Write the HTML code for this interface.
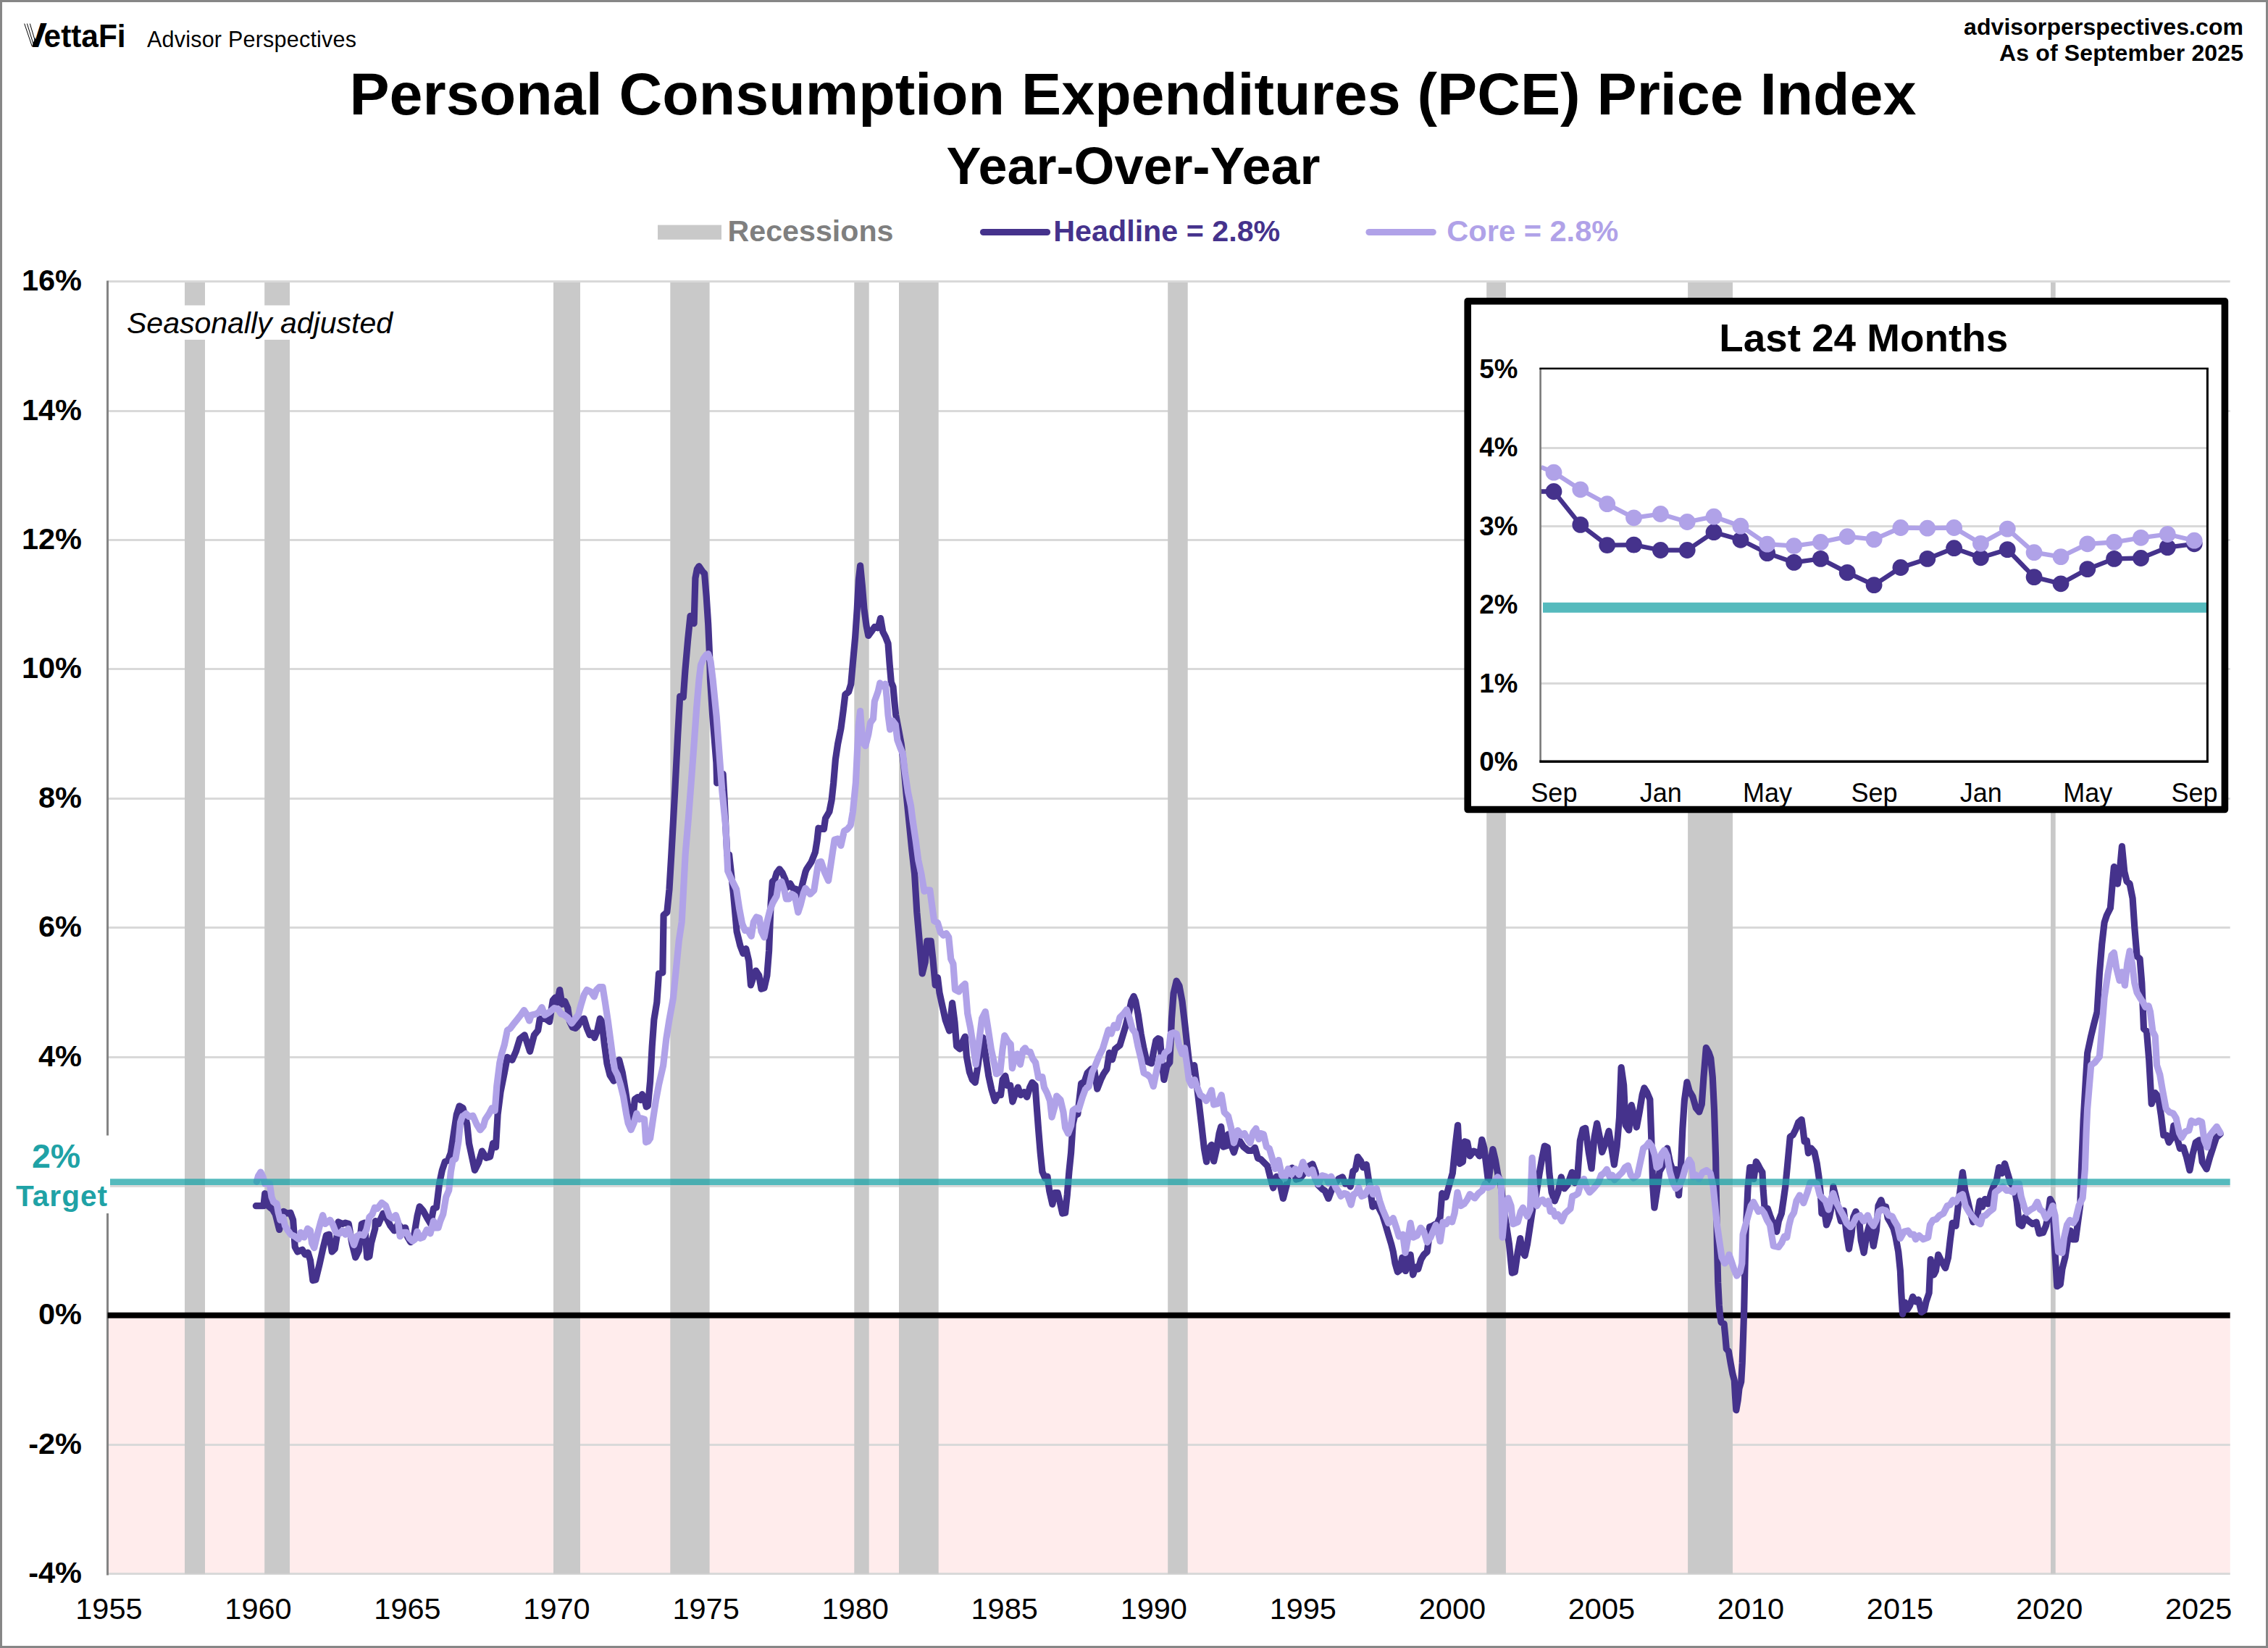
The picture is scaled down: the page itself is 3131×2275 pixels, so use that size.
<!DOCTYPE html>
<html lang="en"><head><meta charset="utf-8"><title>Personal Consumption Expenditures (PCE) Price Index</title>
<style>html,body{margin:0;padding:0;background:#fff}svg{display:block}text{font-family:"Liberation Sans",Arial,sans-serif}.b{font-weight:bold}</style>
</head><body>
<svg width="3131" height="2275" viewBox="0 0 3131 2275">
<rect x="0" y="0" width="3131" height="2275" fill="#fff"/>
<rect x="148.6" y="1815.8" width="2930.1" height="356.8" fill="#ffecec"/>
<line x1="148.6" x2="3078.7" y1="2172.5" y2="2172.5" stroke="#d9d9d9" stroke-width="3"/>
<line x1="148.6" x2="3078.7" y1="1994.5" y2="1994.5" stroke="#d9d9d9" stroke-width="3"/>
<line x1="148.6" x2="3078.7" y1="1637.5" y2="1637.5" stroke="#d9d9d9" stroke-width="3"/>
<line x1="148.6" x2="3078.7" y1="1459.5" y2="1459.5" stroke="#d9d9d9" stroke-width="3"/>
<line x1="148.6" x2="3078.7" y1="1280.5" y2="1280.5" stroke="#d9d9d9" stroke-width="3"/>
<line x1="148.6" x2="3078.7" y1="1102.5" y2="1102.5" stroke="#d9d9d9" stroke-width="3"/>
<line x1="148.6" x2="3078.7" y1="923.5" y2="923.5" stroke="#d9d9d9" stroke-width="3"/>
<line x1="148.6" x2="3078.7" y1="745.5" y2="745.5" stroke="#d9d9d9" stroke-width="3"/>
<line x1="148.6" x2="3078.7" y1="567.5" y2="567.5" stroke="#d9d9d9" stroke-width="3"/>
<line x1="148.6" x2="3078.7" y1="388.5" y2="388.5" stroke="#d9d9d9" stroke-width="3"/>
<rect x="255" y="390" width="28.0" height="1782.6" fill="#c9c9c9"/>
<rect x="365.2" y="390" width="34.8" height="1782.6" fill="#c9c9c9"/>
<rect x="764" y="390" width="37.0" height="1782.6" fill="#c9c9c9"/>
<rect x="925.3" y="390" width="54.3" height="1782.6" fill="#c9c9c9"/>
<rect x="1179.3" y="390" width="20.4" height="1782.6" fill="#c9c9c9"/>
<rect x="1241" y="390" width="54.7" height="1782.6" fill="#c9c9c9"/>
<rect x="1612.2" y="390" width="27.5" height="1782.6" fill="#c9c9c9"/>
<rect x="2052.2" y="390" width="26.7" height="1782.6" fill="#c9c9c9"/>
<rect x="2330.1" y="390" width="61.9" height="1782.6" fill="#c9c9c9"/>
<rect x="2831" y="390" width="6.7" height="1782.6" fill="#c9c9c9"/>
<line x1="148.5" x2="148.5" y1="387.6" y2="2174.6" stroke="#848484" stroke-width="3"/>
<line x1="148.6" x2="3078.7" y1="1815.8" y2="1815.8" stroke="#000" stroke-width="8"/>
<path d="M353.3 1664.7 L363.9 1664.7 L365.7 1647.7 L369.7 1664.4 L376.3 1669.7 L380.3 1676.3 L385.6 1697.5 L388.7 1681.6 L391.4 1672.3 L396.1 1675.0 L400.9 1674.2 L404.6 1684.2 L407.2 1721.3 L410.7 1727.9 L417.3 1725.2 L421.3 1731.9 L425.2 1729.2 L428.4 1739.8 L431.9 1767.6 L435.8 1766.8 L441.1 1745.1 L446.4 1721.3 L450.4 1705.4 L454.3 1704.1 L458.3 1727.9 L462.3 1723.9 L464.9 1708.0 L467.0 1686.9 L472.9 1689.5 L476.8 1688.2 L481.3 1689.5 L486.1 1717.3 L490.8 1735.8 L495.3 1726.6 L499.3 1689.5 L503.3 1688.2 L506.7 1735.8 L509.9 1734.5 L512.5 1716.0 L517.8 1696.1 L518.4 1685.6 L522.6 1689.5 L528.9 1675.0 L533.7 1681.6 L539.0 1692.2 L544.3 1698.8 L549.6 1689.5 L554.9 1696.1 L559.6 1694.8 L562.8 1708.0 L566.8 1714.7 L570.7 1710.7 L576.0 1678.9 L579.2 1665.7 L584.0 1671.0 L590.6 1682.9 L594.6 1689.5 L598.5 1668.4 L602.5 1667.0 L606.5 1634.0 L610.4 1615.4 L614.4 1603.5 L618.4 1602.2 L622.3 1591.6 L626.3 1565.2 L630.3 1538.7 L634.2 1526.8 L639.0 1529.5 L644.8 1552.0 L647.5 1578.4 L655.4 1615.4 L660.7 1604.9 L665.4 1589.0 L671.3 1598.3 L676.6 1596.9 L680.5 1578.4 L684.5 1583.7 L687.1 1538.7 L691.1 1507.0 L696.4 1480.5 L700.4 1459.4 L707.0 1463.3 L712.3 1451.4 L717.6 1434.2 L724.2 1428.9 L731.6 1451.4 L737.4 1428.9 L742.7 1422.3 L745.3 1406.5 L753.3 1406.5 L758.6 1410.4 L763.2 1381.1 L766.6 1377.1 L769.3 1383.7 L772.7 1366.5 L775.9 1386.3 L779.8 1382.4 L783.8 1391.6 L786.5 1410.2 L790.4 1418.1 L794.4 1419.4 L798.4 1415.4 L802.3 1407.5 L806.3 1406.2 L810.3 1419.4 L814.2 1428.7 L817.7 1426.0 L820.8 1432.6 L824.8 1422.1 L828.3 1406.2 L830.9 1410.2 L834.1 1439.3 L838.0 1468.4 L842.0 1484.2 L847.3 1492.2 L851.3 1467.0 L854.7 1463.1 L859.2 1480.3 L863.2 1504.1 L867.1 1529.2 L871.1 1550.4 L873.8 1542.4 L876.4 1517.3 L880.4 1514.7 L884.3 1518.6 L886.5 1510.7 L889.6 1516.0 L892.3 1527.9 L894.4 1526.6 L897.6 1492.2 L900.2 1444.6 L902.9 1407.5 L906.8 1383.7 L909.5 1344.0 L914.8 1342.7 L916.1 1263.3 L920.8 1259.4 L924.0 1227.6 L926.8 1179.9 L931.8 1091.2 L935.7 1014.8 L938.7 961.3 L943.3 962.5 L945.9 925.6 L949.7 882.3 L953.0 850.4 L958.1 860.6 L959.9 798.2 L962.4 785.5 L965.0 781.7 L970.1 789.3 L972.6 791.8 L975.2 823.7 L977.7 861.9 L979.5 902.7 L980.5 938.3 L983.8 989.3 L988.9 1053.0 L989.7 1081.0 L998.1 1068.3 L999.9 1098.9 L1001.9 1142.2 L1003.9 1179.9 L1006.6 1180.0 L1009.5 1206.5 L1012.4 1232.9 L1017.1 1285.8 L1021.9 1305.7 L1025.9 1316.2 L1029.8 1309.6 L1033.8 1326.8 L1036.5 1359.9 L1039.9 1349.3 L1043.6 1340.1 L1047.8 1346.7 L1051.0 1365.2 L1055.0 1363.9 L1058.9 1346.7 L1061.6 1312.3 L1064.2 1246.1 L1066.3 1217.0 L1069.5 1214.4 L1072.2 1205.1 L1076.1 1199.8 L1080.1 1205.1 L1084.1 1214.4 L1086.7 1225.0 L1090.7 1219.7 L1094.7 1226.3 L1099.9 1227.6 L1103.9 1236.9 L1107.9 1219.7 L1111.9 1203.8 L1113.4 1200.1 L1120.0 1189.9 L1125.4 1176.6 L1128.0 1160.5 L1129.9 1143.2 L1137.4 1144.5 L1139.5 1129.8 L1144.9 1120.5 L1148.1 1104.5 L1150.7 1080.4 L1153.4 1048.4 L1156.6 1027.0 L1160.9 1005.7 L1164.1 981.6 L1166.8 958.9 L1171.6 954.9 L1174.8 944.2 L1177.4 914.9 L1180.6 880.2 L1183.3 840.1 L1185.4 800.1 L1187.6 780.8 L1190.3 808.1 L1192.9 840.1 L1196.1 864.1 L1198.8 877.5 L1202.8 872.1 L1207.3 865.5 L1212.1 866.8 L1215.6 853.5 L1218.8 872.1 L1222.3 878.8 L1226.0 888.2 L1228.2 917.5 L1230.3 941.6 L1233.0 948.3 L1234.8 968.3 L1236.7 987.0 L1240.2 1005.7 L1244.2 1027.0 L1247.4 1053.7 L1250.9 1093.8 L1254.9 1133.8 L1258.9 1173.9 L1262.6 1206.5 L1265.8 1259.4 L1269.3 1299.0 L1273.2 1344.0 L1277.2 1328.1 L1279.8 1299.0 L1285.1 1299.0 L1287.8 1322.9 L1291.2 1359.9 L1294.4 1349.3 L1297.0 1370.5 L1301.0 1389.0 L1305.3 1408.5 L1310.6 1423.0 L1314.6 1384.7 L1318.0 1411.1 L1320.6 1444.2 L1325.1 1448.1 L1329.1 1437.6 L1332.3 1431.0 L1334.4 1458.7 L1338.4 1479.9 L1342.3 1490.5 L1346.3 1494.4 L1350.3 1469.3 L1354.2 1437.6 L1356.9 1432.3 L1360.8 1458.7 L1364.8 1485.2 L1368.8 1503.7 L1373.5 1519.6 L1377.2 1511.6 L1381.5 1511.6 L1384.1 1490.5 L1387.8 1485.2 L1390.5 1498.4 L1394.7 1498.4 L1397.9 1520.9 L1401.9 1509.0 L1405.3 1501.1 L1409.0 1511.6 L1413.8 1507.7 L1417.7 1514.3 L1421.7 1501.1 L1424.9 1494.4 L1429.1 1498.4 L1431.0 1524.9 L1433.6 1559.3 L1436.2 1591.0 L1438.9 1617.5 L1442.9 1626.7 L1446.0 1624.1 L1448.7 1643.9 L1452.9 1662.4 L1456.1 1646.6 L1460.1 1646.6 L1462.7 1657.1 L1466.7 1675.1 L1470.6 1674.3 L1473.3 1649.2 L1475.9 1617.5 L1478.6 1591.0 L1481.2 1551.3 L1483.9 1539.4 L1487.8 1538.1 L1490.5 1514.3 L1492.6 1495.8 L1497.1 1493.1 L1501.1 1481.2 L1506.3 1475.9 L1510.3 1474.6 L1514.8 1503.2 L1519.6 1490.5 L1523.5 1482.5 L1528.0 1475.9 L1531.5 1453.4 L1535.4 1462.7 L1539.4 1448.1 L1546.0 1442.9 L1550.0 1429.6 L1554.0 1416.4 L1557.9 1400.5 L1561.9 1382.0 L1565.1 1375.4 L1567.7 1382.0 L1571.2 1400.5 L1575.1 1427.0 L1579.1 1448.1 L1583.1 1465.3 L1589.7 1468.0 L1592.3 1453.4 L1595.8 1436.2 L1598.9 1433.6 L1601.6 1434.9 L1603.7 1464.0 L1606.9 1490.5 L1610.8 1472.0 L1614.8 1466.7 L1617.5 1405.8 L1620.1 1371.4 L1624.1 1354.2 L1628.0 1360.8 L1632.0 1382.0 L1635.4 1411.1 L1638.6 1440.2 L1641.3 1464.0 L1645.2 1479.9 L1648.7 1470.6 L1651.3 1490.5 L1654.5 1516.9 L1658.5 1551.3 L1662.4 1585.7 L1665.6 1603.7 L1669.0 1585.7 L1672.5 1580.4 L1675.7 1602.9 L1679.6 1585.7 L1683.1 1564.6 L1685.7 1555.3 L1688.9 1583.1 L1693.7 1581.7 L1695.5 1565.9 L1699.5 1580.4 L1703.4 1591.0 L1707.4 1577.8 L1711.4 1575.1 L1716.7 1583.1 L1723.3 1588.4 L1728.6 1588.4 L1732.5 1584.4 L1736.5 1598.9 L1740.5 1600.3 L1744.4 1604.2 L1749.7 1609.5 L1753.7 1625.4 L1757.7 1639.9 L1762.4 1624.1 L1766.9 1633.3 L1771.4 1654.5 L1776.2 1636.0 L1780.2 1614.8 L1784.1 1612.2 L1789.4 1628.0 L1794.7 1626.7 L1800.0 1620.1 L1805.3 1610.8 L1811.9 1606.9 L1815.9 1617.5 L1819.8 1636.0 L1825.1 1641.3 L1829.1 1643.9 L1833.9 1654.5 L1838.4 1642.6 L1844.0 1632.8 L1847.9 1627.5 L1853.2 1624.9 L1857.2 1634.1 L1861.2 1632.8 L1864.3 1638.1 L1867.8 1616.9 L1871.2 1614.3 L1874.4 1597.1 L1878.4 1602.4 L1881.8 1611.6 L1886.3 1607.7 L1888.9 1624.9 L1891.6 1643.4 L1895.0 1665.9 L1899.5 1661.9 L1903.5 1667.2 L1908.8 1677.8 L1912.8 1691.0 L1916.7 1704.2 L1920.7 1717.5 L1923.3 1728.0 L1926.0 1743.9 L1929.4 1755.8 L1932.6 1753.2 L1935.8 1736.0 L1940.5 1754.5 L1943.7 1736.0 L1947.1 1732.0 L1950.6 1759.8 L1954.3 1749.2 L1957.7 1751.9 L1961.7 1738.6 L1965.7 1732.0 L1970.2 1728.0 L1972.3 1712.2 L1973.6 1693.7 L1977.6 1692.3 L1984.2 1688.4 L1988.1 1680.4 L1990.8 1647.4 L1996.1 1652.6 L2000.1 1638.1 L2005.3 1619.6 L2009.3 1579.9 L2012.5 1553.4 L2015.1 1606.3 L2019.4 1603.7 L2022.0 1575.9 L2025.7 1577.2 L2029.2 1595.8 L2034.4 1589.2 L2038.4 1590.5 L2042.4 1595.8 L2045.8 1573.3 L2049.0 1585.2 L2052.2 1611.6 L2054.8 1632.8 L2058.3 1601.1 L2060.9 1586.5 L2064.3 1601.1 L2068.0 1622.2 L2071.5 1632.8 L2075.4 1664.6 L2079.4 1691.0 L2083.4 1717.5 L2087.4 1757.1 L2091.3 1755.8 L2095.3 1728.0 L2098.7 1709.5 L2101.9 1728.0 L2105.1 1733.3 L2108.5 1717.5 L2112.5 1691.0 L2116.5 1664.6 L2120.4 1651.3 L2125.2 1619.6 L2128.9 1598.4 L2132.3 1582.0 L2136.3 1583.9 L2138.9 1619.6 L2142.1 1646.0 L2146.3 1657.9 L2150.8 1646.0 L2155.3 1624.9 L2159.6 1640.7 L2164.1 1635.4 L2170.2 1618.3 L2173.9 1632.8 L2177.3 1630.2 L2181.3 1574.6 L2185.2 1558.7 L2188.7 1557.4 L2193.2 1590.5 L2197.1 1613.0 L2201.1 1569.3 L2204.6 1550.8 L2208.3 1569.3 L2211.7 1590.5 L2215.7 1579.9 L2221.0 1561.4 L2224.9 1585.2 L2228.4 1607.7 L2232.1 1582.5 L2235.5 1542.9 L2238.1 1473.5 L2241.6 1497.9 L2244.2 1553.4 L2248.7 1560.1 L2252.2 1525.7 L2255.3 1537.6 L2259.3 1556.1 L2263.3 1534.9 L2267.2 1511.1 L2269.9 1501.9 L2273.9 1508.5 L2277.8 1517.7 L2279.7 1569.3 L2281.8 1638.1 L2283.9 1667.2 L2287.6 1643.4 L2291.1 1616.9 L2295.6 1609.0 L2299.0 1590.5 L2301.6 1585.2 L2305.6 1605.0 L2309.6 1616.9 L2313.5 1614.3 L2317.5 1650.0 L2320.2 1616.9 L2322.8 1558.7 L2325.4 1519.0 L2328.9 1493.9 L2332.1 1505.8 L2336.8 1513.8 L2341.3 1529.6 L2345.8 1534.9 L2349.3 1524.3 L2351.9 1487.3 L2355.3 1446.3 L2359.0 1452.9 L2361.7 1460.8 L2364.3 1487.3 L2366.5 1532.3 L2368.6 1598.4 L2369.6 1664.6 L2370.4 1717.5 L2371.7 1770.4 L2373.3 1802.1 L2374.6 1816.5 L2376.1 1825.6 L2380.1 1827.4 L2381.9 1845.6 L2383.3 1862.0 L2386.4 1865.6 L2389.2 1882.0 L2391.9 1896.5 L2394.3 1905.6 L2395.5 1927.5 L2396.8 1946.6 L2399.2 1932.9 L2401.0 1916.6 L2403.7 1907.5 L2405.2 1882.0 L2406.5 1845.6 L2407.7 1809.2 L2408.8 1754.6 L2410.1 1700.0 L2411.2 1677.8 L2413.1 1638.1 L2415.7 1611.6 L2419.7 1611.6 L2421.0 1627.5 L2424.4 1603.7 L2427.6 1609.0 L2430.3 1614.3 L2432.9 1618.3 L2434.2 1643.4 L2436.1 1667.2 L2440.3 1668.5 L2443.5 1677.8 L2447.5 1688.4 L2452.8 1700.3 L2455.4 1685.7 L2459.4 1675.1 L2462.5 1654.0 L2464.7 1638.1 L2467.3 1611.6 L2471.3 1569.3 L2475.2 1566.7 L2479.2 1558.7 L2482.6 1549.5 L2487.1 1545.5 L2489.0 1558.7 L2491.1 1575.9 L2494.3 1574.6 L2496.4 1591.8 L2500.4 1585.2 L2504.9 1590.5 L2508.3 1606.3 L2511.0 1624.9 L2513.6 1651.3 L2514.9 1675.1 L2517.6 1664.6 L2521.5 1691.0 L2525.5 1680.4 L2528.7 1664.6 L2530.8 1638.1 L2534.8 1654.0 L2538.7 1675.1 L2541.4 1685.7 L2545.3 1671.2 L2549.3 1704.2 L2552.5 1724.1 L2555.9 1704.2 L2558.6 1680.4 L2562.0 1672.5 L2566.5 1683.1 L2569.2 1712.2 L2573.1 1729.4 L2577.1 1704.2 L2581.1 1689.7 L2586.3 1720.1 L2590.3 1698.9 L2593.0 1664.6 L2596.9 1656.6 L2600.9 1669.8 L2603.5 1665.9 L2606.2 1681.7 L2610.2 1688.4 L2614.1 1696.3 L2616.8 1706.9 L2620.7 1728.0 L2623.4 1754.5 L2624.7 1783.6 L2626.6 1814.0 L2630.0 1798.1 L2633.4 1807.4 L2636.6 1802.1 L2640.6 1790.2 L2644.6 1796.8 L2648.5 1794.2 L2652.5 1811.4 L2656.5 1808.7 L2659.1 1796.8 L2663.1 1784.9 L2665.2 1738.6 L2669.7 1759.8 L2672.3 1754.5 L2675.8 1732.0 L2680.3 1741.3 L2685.6 1750.5 L2689.5 1736.0 L2692.2 1712.2 L2695.3 1688.4 L2700.1 1692.3 L2703.3 1664.6 L2706.7 1638.1 L2709.4 1618.3 L2712.8 1643.4 L2716.5 1657.9 L2719.9 1672.5 L2723.9 1687.0 L2729.2 1680.4 L2733.2 1657.9 L2736.6 1665.9 L2740.3 1655.3 L2744.6 1661.9 L2749.0 1646.0 L2753.0 1635.4 L2756.2 1630.2 L2759.6 1611.6 L2763.6 1619.6 L2767.6 1606.3 L2771.5 1619.6 L2775.5 1632.8 L2780.8 1639.4 L2784.2 1659.3 L2787.4 1689.7 L2791.4 1692.3 L2795.3 1680.4 L2800.6 1685.7 L2805.9 1689.7 L2811.2 1687.0 L2815.2 1702.9 L2820.5 1701.6 L2824.4 1692.3 L2827.1 1680.4 L2830.3 1655.3 L2833.7 1661.9 L2836.3 1717.5 L2839.8 1775.7 L2844.3 1773.0 L2846.9 1751.9 L2850.9 1736.0 L2854.9 1709.5 L2858.3 1698.9 L2861.0 1710.8 L2865.4 1710.8 L2871.7 1663.9 L2873.4 1613.8 L2876.1 1547.1 L2879.4 1490.4 L2881.7 1453.7 L2886.7 1430.3 L2890.7 1413.6 L2895.1 1396.9 L2898.4 1343.5 L2901.7 1303.5 L2905.1 1273.5 L2908.4 1263.5 L2913.4 1253.5 L2916.8 1213.4 L2918.4 1196.7 L2923.4 1220.1 L2926.8 1196.7 L2929.4 1168.4 L2932.8 1203.4 L2936.1 1216.8 L2940.1 1220.1 L2944.1 1240.1 L2946.8 1280.2 L2950.1 1320.2 L2954.1 1323.5 L2956.8 1356.9 L2959.5 1420.3 L2963.5 1423.6 L2966.8 1463.7 L2970.2 1523.7 L2975.2 1508.7 L2979.5 1513.7 L2983.5 1540.4 L2986.8 1567.1 L2990.8 1567.1 L2994.2 1577.1 L2998.5 1570.4 L3000.8 1553.8 L3005.2 1570.4 L3009.5 1585.5 L3014.2 1583.8 L3018.5 1597.1 L3022.9 1615.5 L3026.9 1593.8 L3031.2 1577.1 L3036.2 1573.8 L3040.2 1603.8 L3046.2 1613.8 L3050.9 1597.1 L3055.2 1583.8 L3059.6 1570.4 L3065.2 1565.4" fill="none" stroke="#45328c" stroke-width="9.2" stroke-linejoin="round" stroke-linecap="round"/>
<path d="M354.3 1631.3 L356.5 1623.4 L359.9 1618.1 L363.1 1624.7 L365.7 1634.0 L372.3 1634.0 L375.0 1652.5 L377.6 1659.1 L382.1 1661.7 L384.2 1673.7 L386.9 1684.2 L390.8 1680.3 L393.5 1692.2 L397.5 1698.8 L401.4 1704.1 L406.7 1706.7 L412.0 1710.7 L415.2 1701.4 L419.9 1708.0 L424.7 1696.1 L428.4 1698.8 L430.5 1716.0 L433.7 1722.6 L438.5 1702.8 L442.4 1688.2 L445.6 1677.6 L449.0 1689.5 L455.7 1684.2 L459.6 1690.8 L463.6 1701.4 L468.9 1702.8 L472.9 1698.8 L476.8 1704.1 L480.8 1696.1 L484.8 1708.0 L488.7 1718.6 L492.7 1706.7 L496.7 1704.1 L502.0 1705.4 L505.9 1697.5 L509.9 1680.3 L513.9 1676.3 L517.3 1667.0 L521.0 1668.4 L527.1 1660.4 L532.4 1664.4 L537.7 1678.9 L541.6 1681.6 L546.4 1677.6 L549.6 1686.9 L552.2 1706.7 L557.5 1701.4 L561.5 1701.4 L565.4 1709.4 L569.4 1713.3 L572.9 1710.7 L576.0 1700.1 L580.0 1709.4 L584.0 1708.0 L589.3 1697.5 L594.0 1702.8 L598.5 1685.6 L601.2 1694.8 L605.1 1694.8 L607.8 1685.6 L611.7 1676.3 L615.7 1652.5 L619.7 1643.2 L622.3 1618.1 L625.0 1602.2 L628.9 1599.6 L632.9 1575.8 L635.6 1549.3 L638.2 1541.4 L643.5 1537.4 L647.5 1541.4 L652.8 1540.1 L658.0 1552.0 L662.8 1559.9 L667.3 1554.6 L669.9 1545.3 L675.2 1537.4 L679.2 1529.5 L683.2 1533.4 L685.8 1499.0 L689.8 1467.3 L692.4 1455.4 L696.4 1442.2 L700.4 1422.3 L704.3 1419.7 L708.3 1414.4 L713.6 1407.8 L718.9 1401.2 L723.4 1394.6 L726.8 1399.8 L730.8 1409.1 L733.4 1401.2 L740.1 1399.8 L744.0 1397.2 L748.0 1390.6 L752.0 1401.2 L758.6 1397.2 L765.3 1391.6 L770.6 1393.0 L774.6 1399.6 L778.5 1400.9 L783.8 1404.9 L789.1 1412.8 L793.1 1407.5 L798.4 1400.9 L802.3 1386.3 L806.3 1373.1 L810.3 1366.5 L815.6 1369.2 L820.3 1375.8 L823.5 1366.5 L827.5 1362.5 L832.0 1362.5 L835.4 1383.7 L839.4 1410.2 L843.3 1439.3 L846.0 1460.4 L848.6 1476.3 L852.6 1484.2 L856.6 1497.5 L860.5 1513.3 L864.5 1537.1 L867.1 1550.4 L871.1 1559.6 L875.1 1550.4 L879.0 1537.1 L882.2 1545.1 L885.7 1543.8 L889.6 1545.1 L891.7 1576.8 L894.9 1575.5 L897.6 1571.5 L901.5 1545.1 L905.5 1518.6 L909.5 1497.5 L915.6 1471.0 L919.8 1434.0 L924.0 1407.5 L929.3 1378.4 L933.3 1338.7 L937.2 1299.0 L941.2 1272.6 L946.1 1179.9 L950.4 1129.4 L954.3 1078.5 L958.1 1027.5 L961.7 976.6 L965.0 938.3 L967.5 918.0 L971.3 909.0 L975.2 903.9 L977.7 902.7 L981.0 912.9 L984.1 938.3 L989.2 989.3 L993.0 1040.3 L996.8 1091.2 L1001.9 1142.2 L1004.7 1202.5 L1010.0 1214.4 L1016.6 1227.6 L1020.6 1254.1 L1024.6 1275.2 L1028.5 1284.5 L1032.5 1284.5 L1037.2 1292.4 L1040.4 1272.6 L1044.4 1266.0 L1048.4 1267.3 L1051.0 1285.8 L1055.0 1293.8 L1058.9 1272.6 L1062.9 1256.7 L1066.9 1246.1 L1072.2 1236.9 L1074.8 1219.7 L1078.8 1217.0 L1082.8 1228.9 L1085.4 1240.8 L1089.4 1240.8 L1092.8 1234.2 L1097.3 1236.9 L1101.8 1259.4 L1105.2 1248.8 L1109.2 1232.9 L1111.9 1226.3 L1118.5 1234.2 L1123.8 1228.9 L1127.7 1203.8 L1129.8 1190.6 L1133.5 1189.3 L1138.3 1203.8 L1143.6 1215.7 L1149.4 1176.6 L1152.1 1159.2 L1156.6 1157.9 L1160.9 1167.2 L1165.4 1147.2 L1170.0 1144.5 L1174.2 1139.2 L1177.4 1120.5 L1181.4 1080.4 L1183.3 1040.4 L1185.4 1000.3 L1187.6 981.6 L1190.8 1024.4 L1194.8 1029.7 L1198.8 1013.7 L1201.5 997.7 L1205.5 992.3 L1207.3 968.3 L1212.1 954.9 L1214.8 942.9 L1218.8 946.9 L1222.3 944.2 L1224.2 962.9 L1226.0 987.0 L1228.7 1007.0 L1232.2 995.0 L1236.2 1000.3 L1238.9 1021.7 L1242.9 1032.4 L1246.3 1040.4 L1249.5 1067.1 L1253.5 1093.8 L1257.5 1112.5 L1260.2 1133.8 L1264.2 1160.5 L1267.7 1187.2 L1271.9 1206.5 L1275.9 1230.3 L1279.8 1228.9 L1283.8 1228.9 L1286.5 1248.8 L1289.6 1271.3 L1294.4 1273.9 L1298.4 1287.1 L1302.3 1291.1 L1306.3 1288.5 L1309.7 1293.8 L1312.7 1323.8 L1315.9 1330.4 L1318.5 1366.1 L1323.8 1368.8 L1327.8 1362.2 L1332.3 1358.2 L1335.7 1399.2 L1339.7 1419.0 L1343.7 1445.5 L1347.1 1469.3 L1351.6 1437.6 L1355.6 1405.8 L1360.3 1396.6 L1363.5 1416.4 L1368.3 1448.1 L1372.8 1469.3 L1375.4 1482.5 L1380.7 1479.9 L1384.1 1448.1 L1386.8 1429.6 L1391.3 1437.6 L1395.2 1441.5 L1397.4 1474.6 L1401.9 1456.1 L1404.5 1454.8 L1408.5 1469.3 L1412.4 1449.5 L1415.1 1446.8 L1418.5 1452.1 L1422.2 1452.1 L1425.7 1461.4 L1429.6 1466.7 L1433.6 1487.8 L1438.9 1486.5 L1441.5 1501.1 L1445.5 1509.0 L1449.5 1519.6 L1452.1 1542.1 L1456.1 1527.5 L1458.7 1513.0 L1464.0 1518.3 L1468.0 1535.4 L1470.6 1556.6 L1474.6 1564.6 L1478.6 1554.0 L1481.2 1532.8 L1485.2 1530.2 L1489.2 1531.5 L1494.4 1514.3 L1498.4 1503.7 L1503.2 1499.7 L1507.7 1479.9 L1511.6 1472.0 L1516.9 1458.7 L1522.2 1448.1 L1526.2 1434.9 L1530.2 1421.7 L1534.1 1427.0 L1538.1 1415.1 L1542.1 1419.0 L1546.0 1404.5 L1551.3 1399.2 L1555.3 1393.9 L1559.3 1405.8 L1563.2 1420.4 L1567.2 1425.7 L1571.2 1445.5 L1575.1 1461.4 L1579.1 1481.2 L1584.4 1483.9 L1588.4 1487.8 L1592.3 1499.7 L1596.3 1479.9 L1600.3 1460.1 L1604.2 1464.0 L1608.2 1453.4 L1613.5 1449.5 L1616.1 1427.0 L1620.1 1425.7 L1624.1 1427.0 L1628.0 1444.2 L1632.0 1454.8 L1635.4 1446.8 L1638.6 1469.3 L1641.3 1490.5 L1645.2 1498.4 L1649.2 1490.5 L1653.2 1502.4 L1657.1 1511.6 L1661.1 1514.3 L1665.1 1519.6 L1669.0 1513.0 L1672.5 1505.0 L1675.7 1524.9 L1681.0 1523.5 L1686.2 1511.6 L1690.2 1535.4 L1695.5 1540.7 L1699.5 1556.6 L1703.4 1577.8 L1708.7 1560.6 L1714.0 1567.2 L1718.0 1564.6 L1722.0 1572.5 L1725.9 1577.8 L1729.9 1563.2 L1733.9 1557.9 L1737.8 1572.5 L1740.5 1564.6 L1744.4 1565.9 L1748.4 1583.1 L1752.4 1585.7 L1756.3 1598.9 L1760.3 1613.5 L1765.1 1601.6 L1769.6 1622.8 L1773.5 1626.7 L1778.3 1613.5 L1782.8 1621.4 L1788.1 1613.5 L1793.4 1621.4 L1798.7 1604.2 L1802.6 1613.5 L1806.6 1620.1 L1811.9 1614.8 L1815.9 1628.0 L1819.8 1634.7 L1825.1 1622.8 L1830.4 1624.1 L1834.4 1633.3 L1837.6 1624.1 L1844.0 1639.4 L1847.9 1644.7 L1851.1 1651.3 L1855.9 1647.4 L1859.8 1648.7 L1865.1 1663.2 L1868.6 1648.7 L1871.7 1647.4 L1875.7 1639.4 L1879.7 1651.3 L1883.7 1650.0 L1887.6 1643.4 L1891.6 1636.8 L1895.6 1648.7 L1900.3 1640.7 L1904.8 1657.9 L1908.8 1669.8 L1912.8 1679.1 L1916.7 1688.4 L1923.3 1681.7 L1927.3 1693.7 L1931.3 1706.9 L1936.6 1704.2 L1940.0 1729.4 L1943.7 1709.5 L1947.1 1688.4 L1951.1 1708.2 L1956.4 1705.6 L1961.2 1695.0 L1965.7 1700.3 L1970.2 1714.8 L1974.9 1708.2 L1977.6 1701.6 L1982.3 1691.0 L1985.5 1701.6 L1988.1 1713.5 L1992.1 1687.0 L1996.6 1689.7 L2000.1 1683.1 L2004.6 1687.0 L2008.0 1675.1 L2012.0 1646.0 L2016.7 1664.6 L2021.2 1661.9 L2025.2 1656.6 L2029.2 1648.7 L2035.8 1654.0 L2041.1 1647.4 L2046.3 1643.4 L2050.3 1634.1 L2054.3 1639.4 L2059.6 1636.8 L2063.5 1630.2 L2067.5 1624.9 L2072.3 1630.2 L2074.1 1708.2 L2078.1 1667.2 L2082.1 1654.0 L2086.0 1664.6 L2088.7 1689.7 L2095.3 1687.0 L2099.3 1672.5 L2102.4 1667.2 L2108.5 1679.1 L2112.5 1669.8 L2115.1 1598.4 L2117.8 1638.1 L2121.7 1664.6 L2125.7 1657.9 L2129.7 1656.1 L2133.7 1661.9 L2137.6 1657.9 L2140.3 1672.5 L2144.2 1671.2 L2146.9 1679.1 L2150.8 1676.5 L2156.1 1685.7 L2160.6 1675.1 L2168.0 1668.5 L2170.7 1651.3 L2174.7 1650.0 L2178.6 1647.4 L2182.6 1632.8 L2186.6 1627.5 L2190.5 1639.4 L2194.5 1646.0 L2199.8 1640.7 L2206.4 1632.8 L2210.4 1622.2 L2214.3 1619.6 L2218.3 1614.3 L2222.3 1624.9 L2225.7 1622.2 L2228.9 1628.8 L2234.2 1623.5 L2239.5 1618.3 L2243.4 1611.6 L2247.4 1609.0 L2251.4 1622.2 L2255.3 1626.2 L2260.6 1622.2 L2264.6 1603.7 L2268.6 1585.2 L2272.5 1582.5 L2276.5 1577.2 L2280.5 1582.5 L2284.4 1594.4 L2287.1 1611.6 L2291.1 1609.0 L2293.7 1593.1 L2297.7 1587.8 L2301.6 1595.8 L2305.1 1616.9 L2309.6 1632.8 L2313.5 1640.7 L2318.3 1636.8 L2322.8 1626.2 L2326.8 1611.6 L2332.1 1601.1 L2335.2 1606.3 L2337.4 1624.9 L2341.3 1622.2 L2345.3 1627.5 L2350.6 1618.3 L2355.9 1615.6 L2361.2 1619.6 L2365.1 1638.1 L2367.8 1664.6 L2370.4 1691.0 L2373.1 1709.5 L2377.0 1736.0 L2381.0 1743.9 L2383.7 1741.3 L2387.1 1732.0 L2390.3 1741.3 L2394.2 1753.2 L2397.7 1761.1 L2402.2 1755.8 L2404.8 1743.9 L2406.1 1704.2 L2410.1 1689.7 L2413.5 1677.8 L2417.2 1664.6 L2420.7 1659.3 L2427.6 1672.5 L2431.6 1669.8 L2435.6 1675.1 L2439.5 1684.4 L2443.5 1691.0 L2446.1 1706.9 L2448.3 1720.1 L2455.4 1721.4 L2459.4 1716.1 L2463.3 1706.9 L2466.8 1708.2 L2469.9 1691.0 L2472.6 1680.4 L2476.6 1673.8 L2480.0 1657.9 L2484.5 1650.0 L2489.8 1660.6 L2495.1 1646.0 L2499.0 1632.8 L2504.3 1632.8 L2508.3 1634.1 L2512.3 1650.0 L2516.2 1654.0 L2520.2 1657.9 L2524.2 1669.8 L2528.1 1654.0 L2530.8 1647.4 L2534.8 1659.3 L2540.1 1669.8 L2545.3 1679.1 L2549.3 1688.4 L2554.6 1693.7 L2558.6 1688.4 L2562.5 1680.4 L2567.8 1677.8 L2572.6 1685.7 L2578.4 1677.8 L2582.4 1687.0 L2586.3 1692.3 L2590.3 1684.4 L2593.8 1672.5 L2598.3 1669.8 L2603.5 1671.2 L2607.5 1677.8 L2612.3 1679.1 L2615.4 1685.7 L2619.4 1692.3 L2623.4 1709.5 L2628.7 1700.3 L2634.0 1698.9 L2637.9 1704.2 L2641.9 1704.2 L2644.6 1710.8 L2649.3 1705.6 L2655.1 1710.8 L2661.7 1708.2 L2664.4 1691.0 L2668.4 1684.4 L2673.1 1683.1 L2677.6 1677.8 L2682.9 1675.1 L2688.2 1664.6 L2692.2 1663.2 L2696.1 1656.6 L2700.1 1659.3 L2704.9 1651.3 L2709.4 1648.7 L2713.3 1664.6 L2718.6 1673.8 L2723.9 1680.4 L2729.2 1687.0 L2734.0 1689.7 L2737.1 1679.1 L2741.1 1677.8 L2746.4 1672.5 L2751.7 1668.5 L2754.3 1646.0 L2759.6 1642.1 L2764.9 1638.1 L2770.2 1643.4 L2774.2 1643.4 L2779.5 1646.0 L2783.4 1634.1 L2787.4 1634.1 L2790.1 1651.3 L2794.8 1667.2 L2798.0 1673.8 L2803.3 1669.8 L2808.0 1667.2 L2812.5 1659.3 L2816.5 1669.8 L2820.5 1672.5 L2824.4 1681.7 L2829.7 1675.1 L2833.7 1664.6 L2837.1 1677.8 L2839.0 1701.6 L2841.6 1728.0 L2846.9 1729.4 L2849.6 1708.2 L2853.5 1691.0 L2857.5 1684.4 L2862.0 1688.4 L2865.4 1683.1 L2870.1 1663.9 L2875.1 1653.9 L2878.4 1613.8 L2880.1 1563.8 L2881.7 1530.4 L2886.7 1470.3 L2891.7 1467.0 L2898.4 1458.7 L2901.7 1420.3 L2905.1 1376.9 L2910.1 1343.5 L2915.1 1318.5 L2918.4 1315.2 L2921.8 1336.9 L2926.1 1353.6 L2929.4 1341.9 L2933.4 1360.2 L2936.8 1330.2 L2940.1 1312.8 L2943.5 1330.2 L2946.8 1356.9 L2950.1 1370.2 L2954.1 1376.9 L2958.5 1383.6 L2961.8 1390.3 L2966.1 1388.6 L2968.5 1396.9 L2971.8 1423.6 L2975.2 1430.3 L2977.5 1470.3 L2981.8 1483.7 L2985.2 1503.7 L2990.2 1530.4 L2995.2 1535.4 L3000.2 1537.1 L3004.2 1543.7 L3008.5 1563.8 L3011.9 1570.4 L3016.9 1562.1 L3021.9 1560.4 L3025.2 1547.1 L3030.9 1549.8 L3035.2 1547.1 L3039.6 1548.8 L3042.9 1573.8 L3046.9 1583.8 L3050.9 1567.1 L3056.2 1560.4 L3060.2 1555.4 L3065.2 1563.8" fill="none" stroke="#b0a2e8" stroke-width="9.2" stroke-linejoin="round" stroke-linecap="round"/>
<line x1="152" x2="3078.7" y1="1631.6" y2="1631.6" stroke="#1fa4a8" stroke-opacity="0.76" stroke-width="8.8"/>
<rect x="166" y="421.5" width="390" height="47.5" fill="#fff"/>
<text x="175" y="460.3" font-size="40" font-style="italic" textLength="367" lengthAdjust="spacingAndGlyphs">Seasonally adjusted</text>
<rect x="14" y="1567.5" width="138" height="107.5" fill="#fff"/>
<text class="b" x="44" y="1612.1" font-size="46.5" fill="#1fa2a6">2%</text>
<text class="b" x="22" y="1664.9" font-size="40.6" fill="#1fa2a6" textLength="126">Target</text>
<text class="b" x="113" y="2185.2" font-size="41.5" text-anchor="end">-4%</text>
<text class="b" x="113" y="2006.8" font-size="41.5" text-anchor="end">-2%</text>
<text class="b" x="113" y="1828.4" font-size="41.5" text-anchor="end">0%</text>
<text class="b" x="113" y="1471.6" font-size="41.5" text-anchor="end">4%</text>
<text class="b" x="113" y="1293.2" font-size="41.5" text-anchor="end">6%</text>
<text class="b" x="113" y="1114.8" font-size="41.5" text-anchor="end">8%</text>
<text class="b" x="113" y="936.4" font-size="41.5" text-anchor="end">10%</text>
<text class="b" x="113" y="758.0" font-size="41.5" text-anchor="end">12%</text>
<text class="b" x="113" y="579.6" font-size="41.5" text-anchor="end">14%</text>
<text class="b" x="113" y="401.2" font-size="41.5" text-anchor="end">16%</text>
<text x="150.4" y="2235.2" font-size="41.5" text-anchor="middle">1955</text>
<text x="356.5" y="2235.2" font-size="41.5" text-anchor="middle">1960</text>
<text x="562.5" y="2235.2" font-size="41.5" text-anchor="middle">1965</text>
<text x="768.5" y="2235.2" font-size="41.5" text-anchor="middle">1970</text>
<text x="974.6" y="2235.2" font-size="41.5" text-anchor="middle">1975</text>
<text x="1180.7" y="2235.2" font-size="41.5" text-anchor="middle">1980</text>
<text x="1386.7" y="2235.2" font-size="41.5" text-anchor="middle">1985</text>
<text x="1592.8" y="2235.2" font-size="41.5" text-anchor="middle">1990</text>
<text x="1798.8" y="2235.2" font-size="41.5" text-anchor="middle">1995</text>
<text x="2004.9" y="2235.2" font-size="41.5" text-anchor="middle">2000</text>
<text x="2210.9" y="2235.2" font-size="41.5" text-anchor="middle">2005</text>
<text x="2417.0" y="2235.2" font-size="41.5" text-anchor="middle">2010</text>
<text x="2623.0" y="2235.2" font-size="41.5" text-anchor="middle">2015</text>
<text x="2829.1" y="2235.2" font-size="41.5" text-anchor="middle">2020</text>
<text x="3035.1" y="2235.2" font-size="41.5" text-anchor="middle">2025</text>
<text class="b" x="34.4" y="63.6" font-size="43.5"><tspan stroke="#000" stroke-width="2">V</tspan><tspan x="60.6" y="64.5" font-size="44" textLength="113" lengthAdjust="spacingAndGlyphs">ettaFi</tspan></text>
<polygon points="28,28 57.3,28 43.4,66 28,66" fill="#fff"/>
<g stroke="#000" stroke-width="1" stroke-linecap="butt"><line x1="33.7" y1="32.6" x2="44.4" y2="64.3"/><line x1="37.4" y1="32.6" x2="45.9" y2="60.3"/><line x1="41.3" y1="32.6" x2="48.1" y2="55.4"/></g>
<text x="203" y="64.7" font-size="30.5" textLength="289">Advisor Perspectives</text>
<text class="b" x="1564" y="157.7" font-size="82" text-anchor="middle" textLength="2163" lengthAdjust="spacingAndGlyphs">Personal Consumption Expenditures (PCE) Price Index</text>
<text class="b" x="1564.5" y="253.9" font-size="72.6" text-anchor="middle" textLength="516" lengthAdjust="spacingAndGlyphs">Year-Over-Year</text>
<text class="b" x="3097" y="47.5" font-size="32" text-anchor="end" textLength="386">advisorperspectives.com</text>
<text class="b" x="3097" y="84.3" font-size="32" text-anchor="end" textLength="337">As of September 2025</text>
<rect x="908" y="310.6" width="88" height="20.1" fill="#c9c9c9"/>
<text class="b" x="1004.5" y="333.3" font-size="41.2" fill="#7f7f7f" textLength="229" lengthAdjust="spacingAndGlyphs">Recessions</text>
<line x1="1357.5" x2="1445.5" y1="320.5" y2="320.5" stroke="#45328c" stroke-width="9.2" stroke-linecap="round"/>
<text class="b" x="1454.3" y="333.3" font-size="41.2" fill="#45328c" textLength="313" lengthAdjust="spacingAndGlyphs">Headline = 2.8%</text>
<line x1="1890" x2="1978.2" y1="320.5" y2="320.5" stroke="#b0a2e8" stroke-width="9.2" stroke-linecap="round"/>
<text class="b" x="1997.3" y="333.3" font-size="41.2" fill="#b0a2e8" textLength="237" lengthAdjust="spacingAndGlyphs">Core = 2.8%</text>
<rect x="2026.2" y="415.7" width="1045.2" height="701.8" fill="#fff" stroke="#000" stroke-width="9.6" stroke-linejoin="round"/>
<text class="b" x="2572.7" y="484.7" font-size="54.5" text-anchor="middle" textLength="399" lengthAdjust="spacingAndGlyphs">Last 24 Months</text>
<line x1="2126.6" x2="3047.4" y1="943.5" y2="943.5" stroke="#d9d9d9" stroke-width="3"/>
<line x1="2126.6" x2="3047.4" y1="726.5" y2="726.5" stroke="#d9d9d9" stroke-width="3"/>
<line x1="2126.6" x2="3047.4" y1="618.5" y2="618.5" stroke="#d9d9d9" stroke-width="3"/>
<text class="b" x="2042.3" y="1064.0" font-size="36.7">0%</text>
<text class="b" x="2042.3" y="955.5" font-size="36.7">1%</text>
<text class="b" x="2042.3" y="847.0" font-size="36.7">2%</text>
<text class="b" x="2042.3" y="738.5" font-size="36.7">3%</text>
<text class="b" x="2042.3" y="630.0" font-size="36.7">4%</text>
<text class="b" x="2042.3" y="521.5" font-size="36.7">5%</text>
<path d="M2127.6 678.5 L2145.0 678.5 L2181.8 724.4 L2218.7 752.6 L2255.5 752.1 L2292.4 759.5 L2329.2 759.5 L2366.0 734.7 L2402.9 745.3 L2439.7 763.6 L2476.6 776.4 L2513.4 771.4 L2550.2 790.4 L2587.1 807.6 L2623.9 783.5 L2660.8 771.4 L2697.6 756.7 L2734.4 769.8 L2771.3 758.6 L2808.1 796.6 L2845.0 805.8 L2881.8 785.6 L2918.6 771.4 L2955.5 770.5 L2992.3 755.6 L3029.2 750.8" fill="none" stroke="#45328c" stroke-width="6.3" stroke-linejoin="round"/>
<circle cx="2145.0" cy="678.5" r="11.4" fill="#45328c"/>
<circle cx="2181.8" cy="724.4" r="11.4" fill="#45328c"/>
<circle cx="2218.7" cy="752.6" r="11.4" fill="#45328c"/>
<circle cx="2255.5" cy="752.1" r="11.4" fill="#45328c"/>
<circle cx="2292.4" cy="759.5" r="11.4" fill="#45328c"/>
<circle cx="2329.2" cy="759.5" r="11.4" fill="#45328c"/>
<circle cx="2366.0" cy="734.7" r="11.4" fill="#45328c"/>
<circle cx="2402.9" cy="745.3" r="11.4" fill="#45328c"/>
<circle cx="2439.7" cy="763.6" r="11.4" fill="#45328c"/>
<circle cx="2476.6" cy="776.4" r="11.4" fill="#45328c"/>
<circle cx="2513.4" cy="771.4" r="11.4" fill="#45328c"/>
<circle cx="2550.2" cy="790.4" r="11.4" fill="#45328c"/>
<circle cx="2587.1" cy="807.6" r="11.4" fill="#45328c"/>
<circle cx="2623.9" cy="783.5" r="11.4" fill="#45328c"/>
<circle cx="2660.8" cy="771.4" r="11.4" fill="#45328c"/>
<circle cx="2697.6" cy="756.7" r="11.4" fill="#45328c"/>
<circle cx="2734.4" cy="769.8" r="11.4" fill="#45328c"/>
<circle cx="2771.3" cy="758.6" r="11.4" fill="#45328c"/>
<circle cx="2808.1" cy="796.6" r="11.4" fill="#45328c"/>
<circle cx="2845.0" cy="805.8" r="11.4" fill="#45328c"/>
<circle cx="2881.8" cy="785.6" r="11.4" fill="#45328c"/>
<circle cx="2918.6" cy="771.4" r="11.4" fill="#45328c"/>
<circle cx="2955.5" cy="770.5" r="11.4" fill="#45328c"/>
<circle cx="2992.3" cy="755.6" r="11.4" fill="#45328c"/>
<circle cx="3029.2" cy="750.8" r="11.4" fill="#45328c"/>
<path d="M2127.6 644.8 L2145.0 652.2 L2181.8 675.8 L2218.7 695.7 L2255.5 714.8 L2292.4 709.5 L2329.2 720.5 L2366.0 713.2 L2402.9 726.2 L2439.7 751.2 L2476.6 753.7 L2513.4 748.5 L2550.2 740.7 L2587.1 744.6 L2623.9 728.5 L2660.8 729.2 L2697.6 728.5 L2734.4 750.3 L2771.3 730.1 L2808.1 762.7 L2845.0 768.6 L2881.8 750.8 L2918.6 748.5 L2955.5 742.3 L2992.3 737.5 L3029.2 746.2" fill="none" stroke="#b0a2e8" stroke-width="6.3" stroke-linejoin="round"/>
<circle cx="2145.0" cy="652.2" r="11.4" fill="#b0a2e8"/>
<circle cx="2181.8" cy="675.8" r="11.4" fill="#b0a2e8"/>
<circle cx="2218.7" cy="695.7" r="11.4" fill="#b0a2e8"/>
<circle cx="2255.5" cy="714.8" r="11.4" fill="#b0a2e8"/>
<circle cx="2292.4" cy="709.5" r="11.4" fill="#b0a2e8"/>
<circle cx="2329.2" cy="720.5" r="11.4" fill="#b0a2e8"/>
<circle cx="2366.0" cy="713.2" r="11.4" fill="#b0a2e8"/>
<circle cx="2402.9" cy="726.2" r="11.4" fill="#b0a2e8"/>
<circle cx="2439.7" cy="751.2" r="11.4" fill="#b0a2e8"/>
<circle cx="2476.6" cy="753.7" r="11.4" fill="#b0a2e8"/>
<circle cx="2513.4" cy="748.5" r="11.4" fill="#b0a2e8"/>
<circle cx="2550.2" cy="740.7" r="11.4" fill="#b0a2e8"/>
<circle cx="2587.1" cy="744.6" r="11.4" fill="#b0a2e8"/>
<circle cx="2623.9" cy="728.5" r="11.4" fill="#b0a2e8"/>
<circle cx="2660.8" cy="729.2" r="11.4" fill="#b0a2e8"/>
<circle cx="2697.6" cy="728.5" r="11.4" fill="#b0a2e8"/>
<circle cx="2734.4" cy="750.3" r="11.4" fill="#b0a2e8"/>
<circle cx="2771.3" cy="730.1" r="11.4" fill="#b0a2e8"/>
<circle cx="2808.1" cy="762.7" r="11.4" fill="#b0a2e8"/>
<circle cx="2845.0" cy="768.6" r="11.4" fill="#b0a2e8"/>
<circle cx="2881.8" cy="750.8" r="11.4" fill="#b0a2e8"/>
<circle cx="2918.6" cy="748.5" r="11.4" fill="#b0a2e8"/>
<circle cx="2955.5" cy="742.3" r="11.4" fill="#b0a2e8"/>
<circle cx="2992.3" cy="737.5" r="11.4" fill="#b0a2e8"/>
<circle cx="3029.2" cy="746.2" r="11.4" fill="#b0a2e8"/>
<line x1="2130" x2="3046.9" y1="838.7" y2="838.7" stroke="#1fa4a8" stroke-opacity="0.76" stroke-width="14"/>
<line x1="2126.6" x2="2126.6" y1="508.7" y2="1051.2" stroke="#7a7a7a" stroke-width="2.6"/>
<line x1="2125.2999999999997" x2="3048.9" y1="508.7" y2="508.7" stroke="#000" stroke-width="2.4"/>
<line x1="3047.4" x2="3047.4" y1="508.7" y2="1051.2" stroke="#000" stroke-width="3"/>
<line x1="2125.2999999999997" x2="3048.9" y1="1051.2" y2="1051.2" stroke="#000" stroke-width="3.4"/>
<text x="2145.4" y="1106.6" font-size="36" text-anchor="middle">Sep</text>
<text x="2292.8" y="1106.6" font-size="36" text-anchor="middle">Jan</text>
<text x="2440.1" y="1106.6" font-size="36" text-anchor="middle">May</text>
<text x="2587.5" y="1106.6" font-size="36" text-anchor="middle">Sep</text>
<text x="2734.8" y="1106.6" font-size="36" text-anchor="middle">Jan</text>
<text x="2882.2" y="1106.6" font-size="36" text-anchor="middle">May</text>
<text x="3029.6" y="1106.6" font-size="36" text-anchor="middle">Sep</text>
<rect x="1.5" y="1.5" width="3128" height="2272" fill="none" stroke="#868686" stroke-width="3"/>
</svg></body></html>
